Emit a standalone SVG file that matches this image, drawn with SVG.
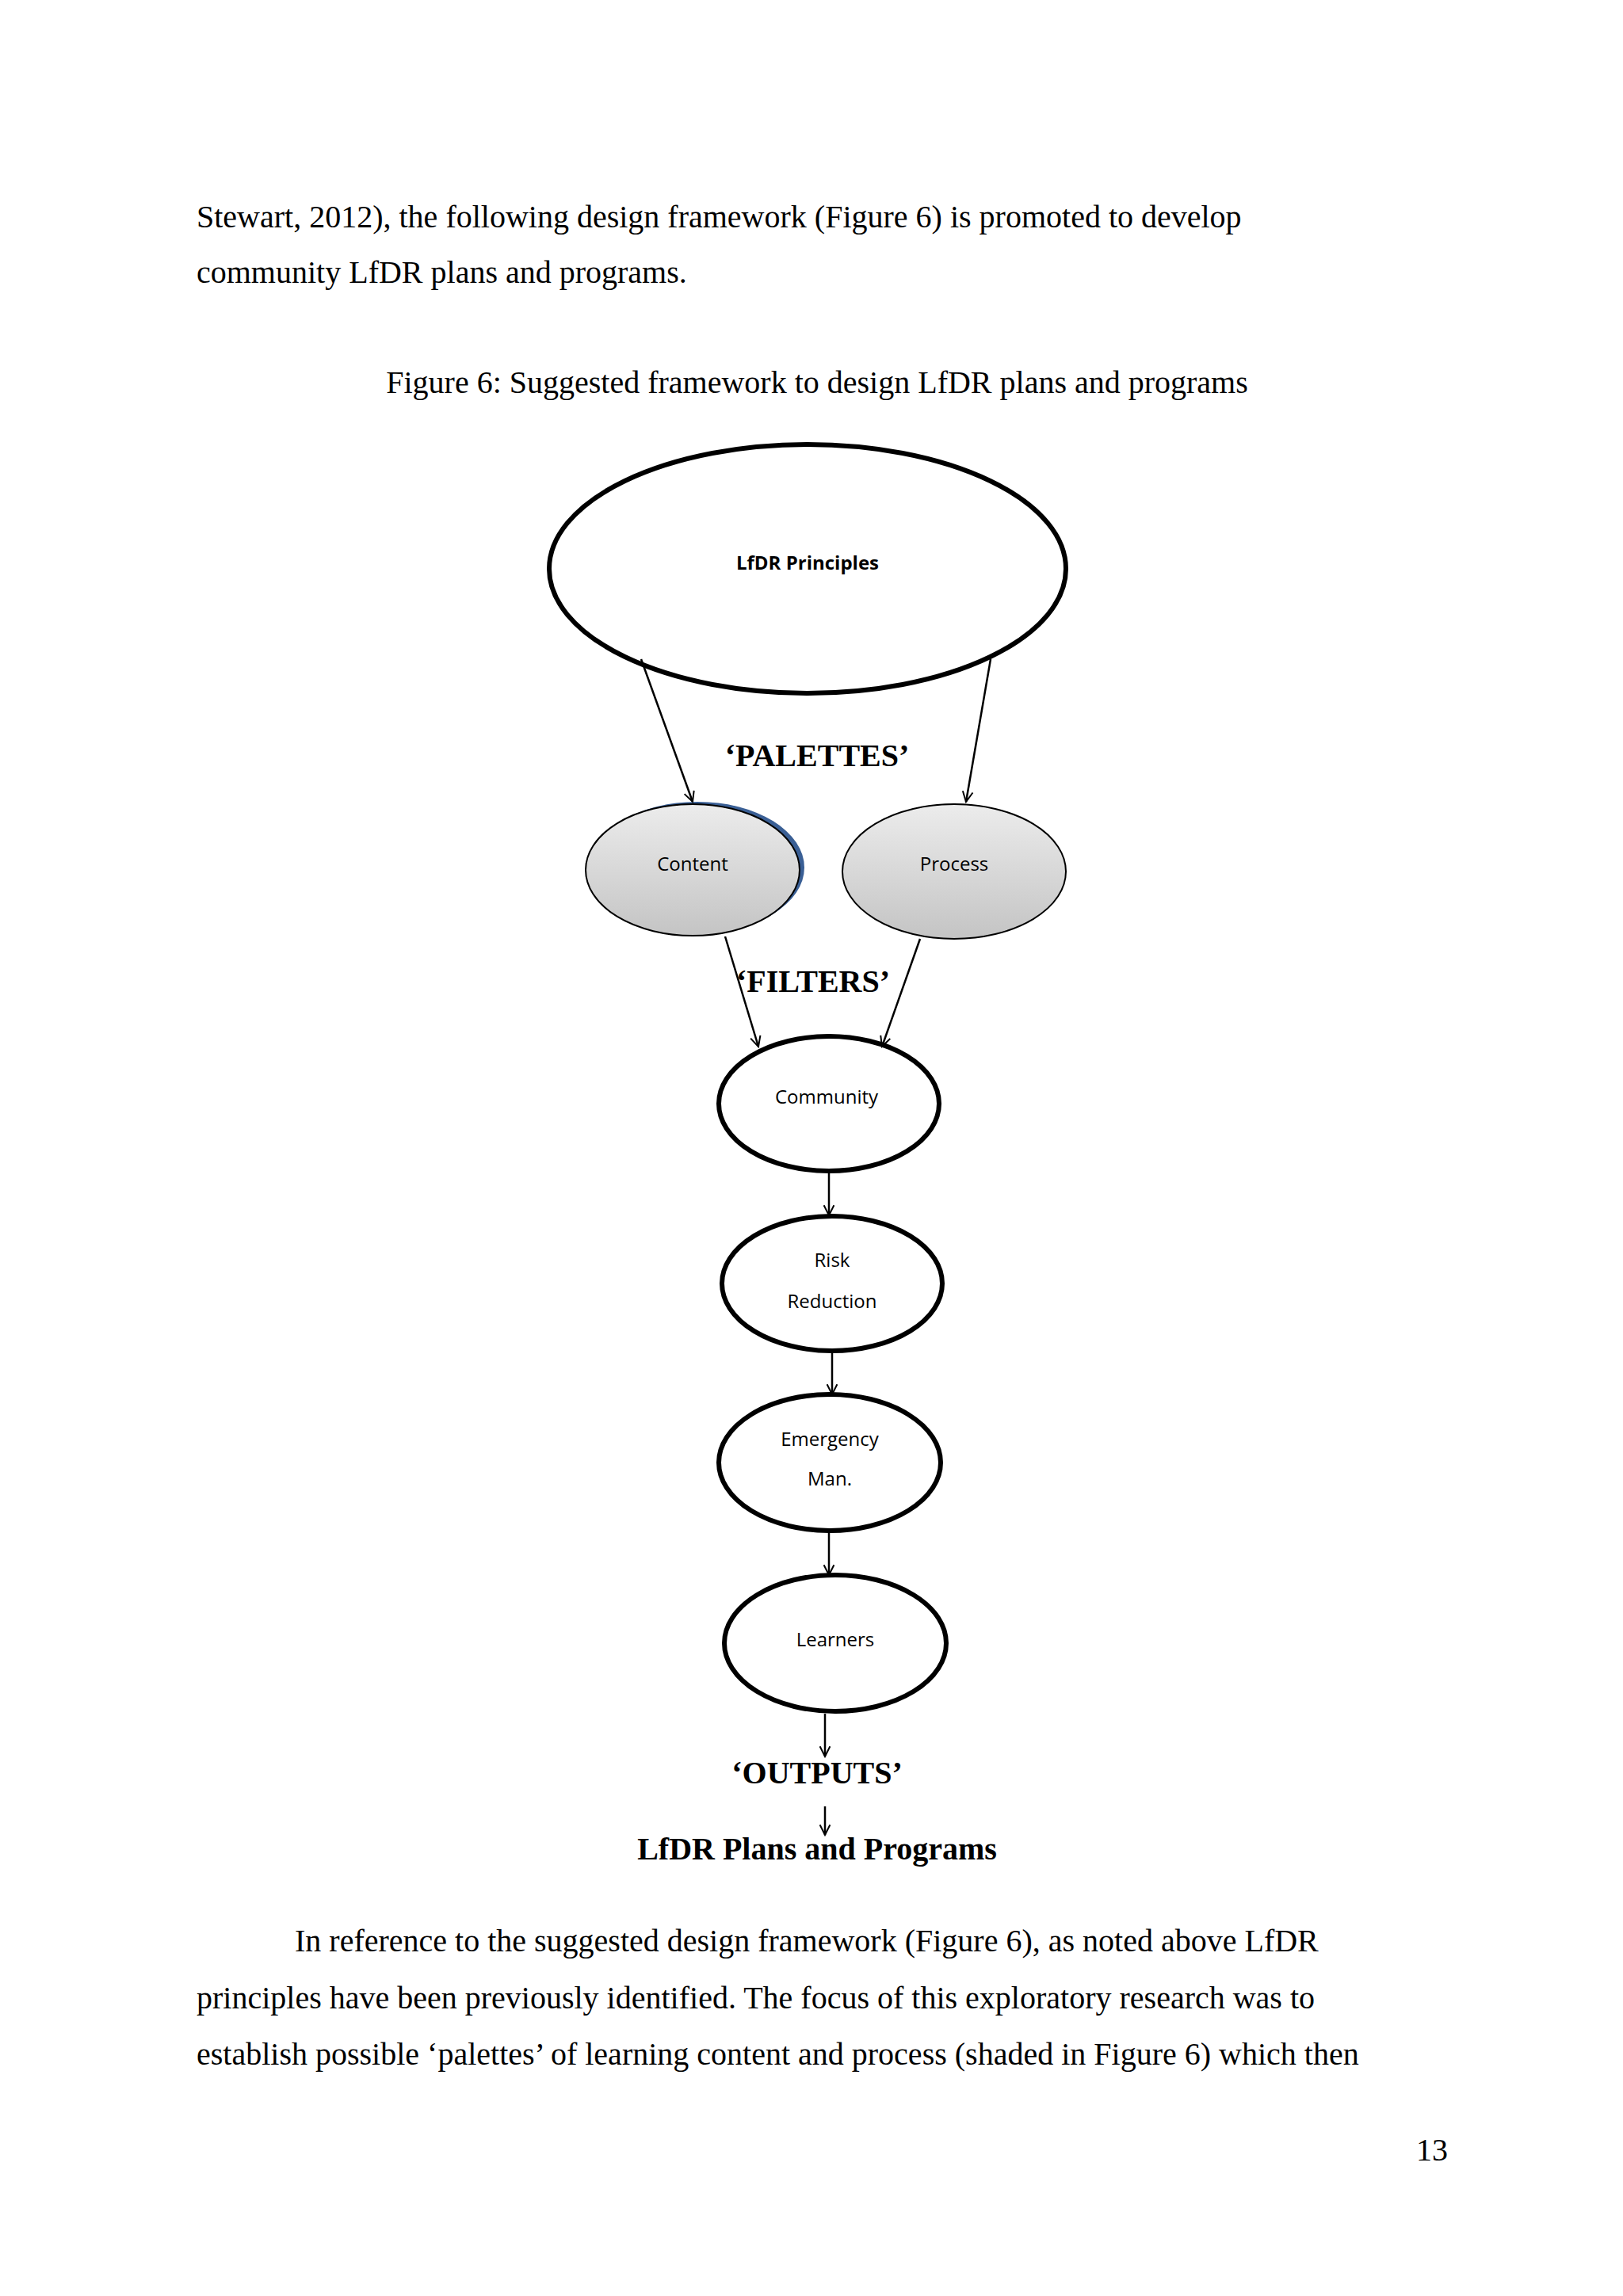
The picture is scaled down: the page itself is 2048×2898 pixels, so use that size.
<svg xmlns="http://www.w3.org/2000/svg" width="2048" height="2898" viewBox="0 0 2048 2898">
<style>
.body{font-family:"Liberation Serif",serif;font-size:40px;fill:#000}
.lbl{font-family:"Liberation Serif",serif;font-size:40px;font-weight:bold;fill:#000;text-anchor:middle}
.node{fill:#fff;stroke:#000;stroke-width:6}
.pal{fill:url(#g);stroke:#000;stroke-width:2}
.t{font-family:"Open Sans","DejaVu Sans",sans-serif;font-size:24px;text-anchor:middle;fill:#000}
.c{stroke:#000;stroke-width:2.5;fill:none;marker-end:url(#a)}
</style>
<defs>
<linearGradient id="g" x1="0" y1="0" x2="0" y2="1"><stop offset="0" stop-color="#ececec"/><stop offset="1" stop-color="#c4c4c4"/></linearGradient>
<marker id="a" viewBox="0 0 20 20" refX="18" refY="10" markerWidth="16" markerHeight="16" markerUnits="userSpaceOnUse" orient="auto"><path d="M2,2 L18,10 L2,18" fill="none" stroke="#000" stroke-width="2.5"/></marker>
</defs>
<rect width="2048" height="2898" fill="#fff"/>
<text class="body" x="248" y="287">Stewart, 2012), the following design framework (Figure 6) is promoted to develop</text>
<text class="body" x="248" y="357">community LfDR plans and programs.</text>
<text class="body" x="1031" y="496" text-anchor="middle" font-size="34">Figure 6: Suggested framework to design LfDR plans and programs</text>
<g id="principles"><ellipse class="node" cx="1019" cy="718" rx="326" ry="157"/><text class="t" x="1019" y="719" font-size="33" font-weight="bold">LfDR Principles</text></g>
<text class="lbl" x="1031" y="967">‘PALETTES’</text>
<g id="content"><ellipse cx="880" cy="1095" rx="135" ry="83" fill="#3a5f95"/><ellipse class="pal" cx="874" cy="1098" rx="135" ry="83"/><text class="t" x="874" y="1099" font-size="30">Content</text></g>
<g id="process"><ellipse class="pal" cx="1204" cy="1100" rx="141" ry="85"/><text class="t" x="1204" y="1099" font-size="30">Process</text></g>
<text class="lbl" x="1026" y="1252">‘FILTERS’</text>
<g id="community"><ellipse class="node" cx="1046" cy="1393" rx="139" ry="85"/><text class="t" x="1043" y="1393">Community</text></g>
<g id="risk"><ellipse class="node" cx="1050" cy="1620" rx="139" ry="85"/><text class="t" x="1050" y="1599">Risk</text><text class="t" x="1050" y="1651">Reduction</text></g>
<g id="emergency"><ellipse class="node" cx="1047" cy="1846" rx="140" ry="86"/><text class="t" x="1047" y="1825">Emergency</text><text class="t" x="1047" y="1875">Man.</text></g>
<g id="learners"><ellipse class="node" cx="1054" cy="2074" rx="140" ry="86"/><text class="t" x="1054" y="2078">Learners</text></g>
<text class="lbl" x="1031" y="2251">‘OUTPUTS’</text>
<text class="lbl" x="1031" y="2347">LfDR Plans and Programs</text>
<g id="connectors">
<line class="c" x1="809" y1="832" x2="874" y2="1012"/>
<line class="c" x1="1250" y1="832" x2="1219" y2="1012"/>
<line class="c" x1="915" y1="1182" x2="957" y2="1321"/>
<line class="c" x1="1161" y1="1185" x2="1113" y2="1321"/>
<line class="c" x1="1046" y1="1478" x2="1046" y2="1534"/>
<line class="c" x1="1050" y1="1705" x2="1050" y2="1760"/>
<line class="c" x1="1046" y1="1932" x2="1046" y2="1988"/>
<line class="c" x1="1041" y1="2163" x2="1041" y2="2217"/>
<line class="c" x1="1041" y1="2280" x2="1041" y2="2316"/>
</g>
<text class="body" x="372" y="2463">In reference to the suggested design framework (Figure 6), as noted above LfDR</text>
<text class="body" x="248" y="2535">principles have been previously identified. The focus of this exploratory research was to</text>
<text class="body" x="248" y="2606">establish possible ‘palettes’ of learning content and process (shaded in Figure 6) which then</text>
<text class="body" x="1787" y="2727" font-size="32">13</text>
</svg>
